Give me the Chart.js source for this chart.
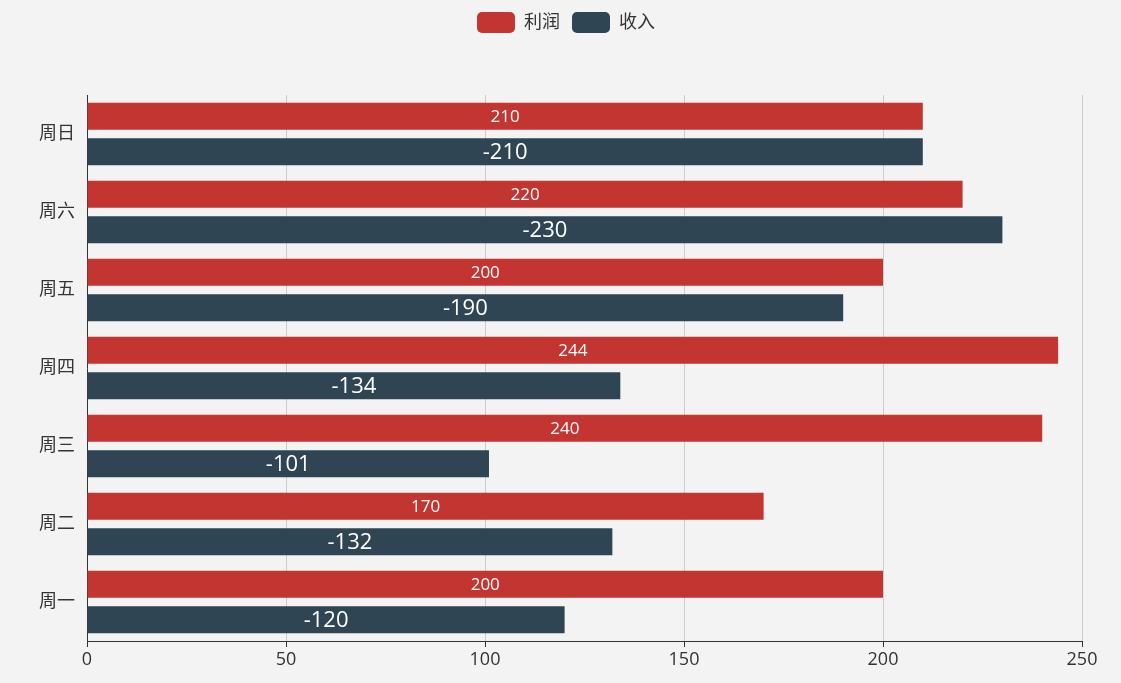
<!DOCTYPE html>
<html>
<head>
<meta charset="utf-8">
<script src="https://cdn.jsdelivr.net/npm/chart.js@4/dist/chart.umd.min.js"></script>
<style>
html,body{margin:0;padding:0;background:#f3f3f3;}
#wrap{width:1121px;height:683px;position:relative;}
</style>
</head>
<body>
<div id="wrap"><canvas id="c"></canvas></div>
<script>
const categories = ['周一','周二','周三','周四','周五','周六','周日'];
const profit = [200, 170, 240, 244, 200, 220, 210];
const incomeLabels = [-120, -132, -101, -134, -190, -230, -210];
const income = [120, 132, 101, 134, 190, 230, 210];
const xTicks = [0, 50, 100, 150, 200, 250];

const FONT = "'Open Sans', 'Noto Sans CJK SC', sans-serif";
const RED = '#c23531', DARK = '#2f4554';

// make legend block taller so chart area starts lower
if (Chart.Legend && Chart.Legend._element) {
  const LE = Chart.Legend._element;
  const of = LE.prototype.fit;
  LE.prototype.fit = function () { of.call(this); if (this.isHorizontal()) this.height = 95; };
}

const legendCenter = {
  id: 'legendCenter',
  afterLayout(chart) {
    const lg = chart.legend;
    if (!lg) return;
    lg.left = 0;
    lg.right = chart.width + 11;
    lg.width = lg.right - lg.left;
    if (lg.adjustHitBoxes) lg.adjustHitBoxes();
  }
};

const labelPlugin = {
  id: 'barLabels',
  afterDatasetsDraw(chart) {
    const ctx = chart.ctx;
    ctx.save();
    ctx.fillStyle = '#fff';
    ctx.textAlign = 'center';
    ctx.textBaseline = 'middle';
    chart.data.datasets.forEach((ds, di) => {
      const meta = chart.getDatasetMeta(di);
      ctx.font = (di === 0 ? '17px ' : '22px ') + FONT;
      meta.data.forEach((el, i) => {
        const p = el.getProps(['x', 'y', 'base'], true);
        const txt = di === 0 ? String(profit[i]) : String(incomeLabels[i]);
        ctx.fillText(txt, (p.x + p.base) / 2, p.y + 1);
      });
    });
    ctx.restore();
  }
};

new Chart(document.getElementById('c'), {
  type: 'bar',
  data: {
    labels: categories,
    datasets: [
      { label: '利润', data: profit, backgroundColor: RED, categoryPercentage: 0.91, barPercentage: 0.76 },
      { label: '收入', data: income, backgroundColor: DARK, categoryPercentage: 0.91, barPercentage: 0.76 }
    ]
  },
  options: {
    indexAxis: 'y',
    responsive: true,
    maintainAspectRatio: false,
    animation: false,
    layout: { padding: { top: 0, left: 0, right: 39, bottom: 0 } },
    plugins: {
      legend: {
        display: true,
        position: 'top',
        labels: {
          boxWidth: 38, boxHeight: 21, padding: 12,
          useBorderRadius: true, borderRadius: 5,
          color: '#333',
          font: { family: FONT, size: 18 }
        }
      },
      tooltip: { enabled: false }
    },
    scales: {
      x: {
        min: 0, max: 250,
        afterBuildTicks(s) { s.ticks = xTicks.map(v => ({ value: v })); },
        afterFit(s) { s.height = 42; },
        grid: {
          color: (c) => c.tick && c.tick.value === 0 ? 'rgba(0,0,0,0)' : '#cccccc',
          lineWidth: 1,
          drawTicks: true, tickLength: 6, tickColor: '#333',
        },
        border: { display: true, color: '#333', width: 1 },
        ticks: { color: '#333', font: { family: FONT, size: 18 }, padding: 2 }
      },
      y: {
        reverse: true,
        afterFit(s) { s.width = 87; },
        grid: { display: false, drawTicks: false },
        border: { display: true, color: '#333', width: 1 },
        ticks: { color: '#333', font: { family: FONT, size: 18 }, padding: 12 }
      }
    }
  },
  plugins: [legendCenter, labelPlugin]
});
</script>
</body>
</html>
